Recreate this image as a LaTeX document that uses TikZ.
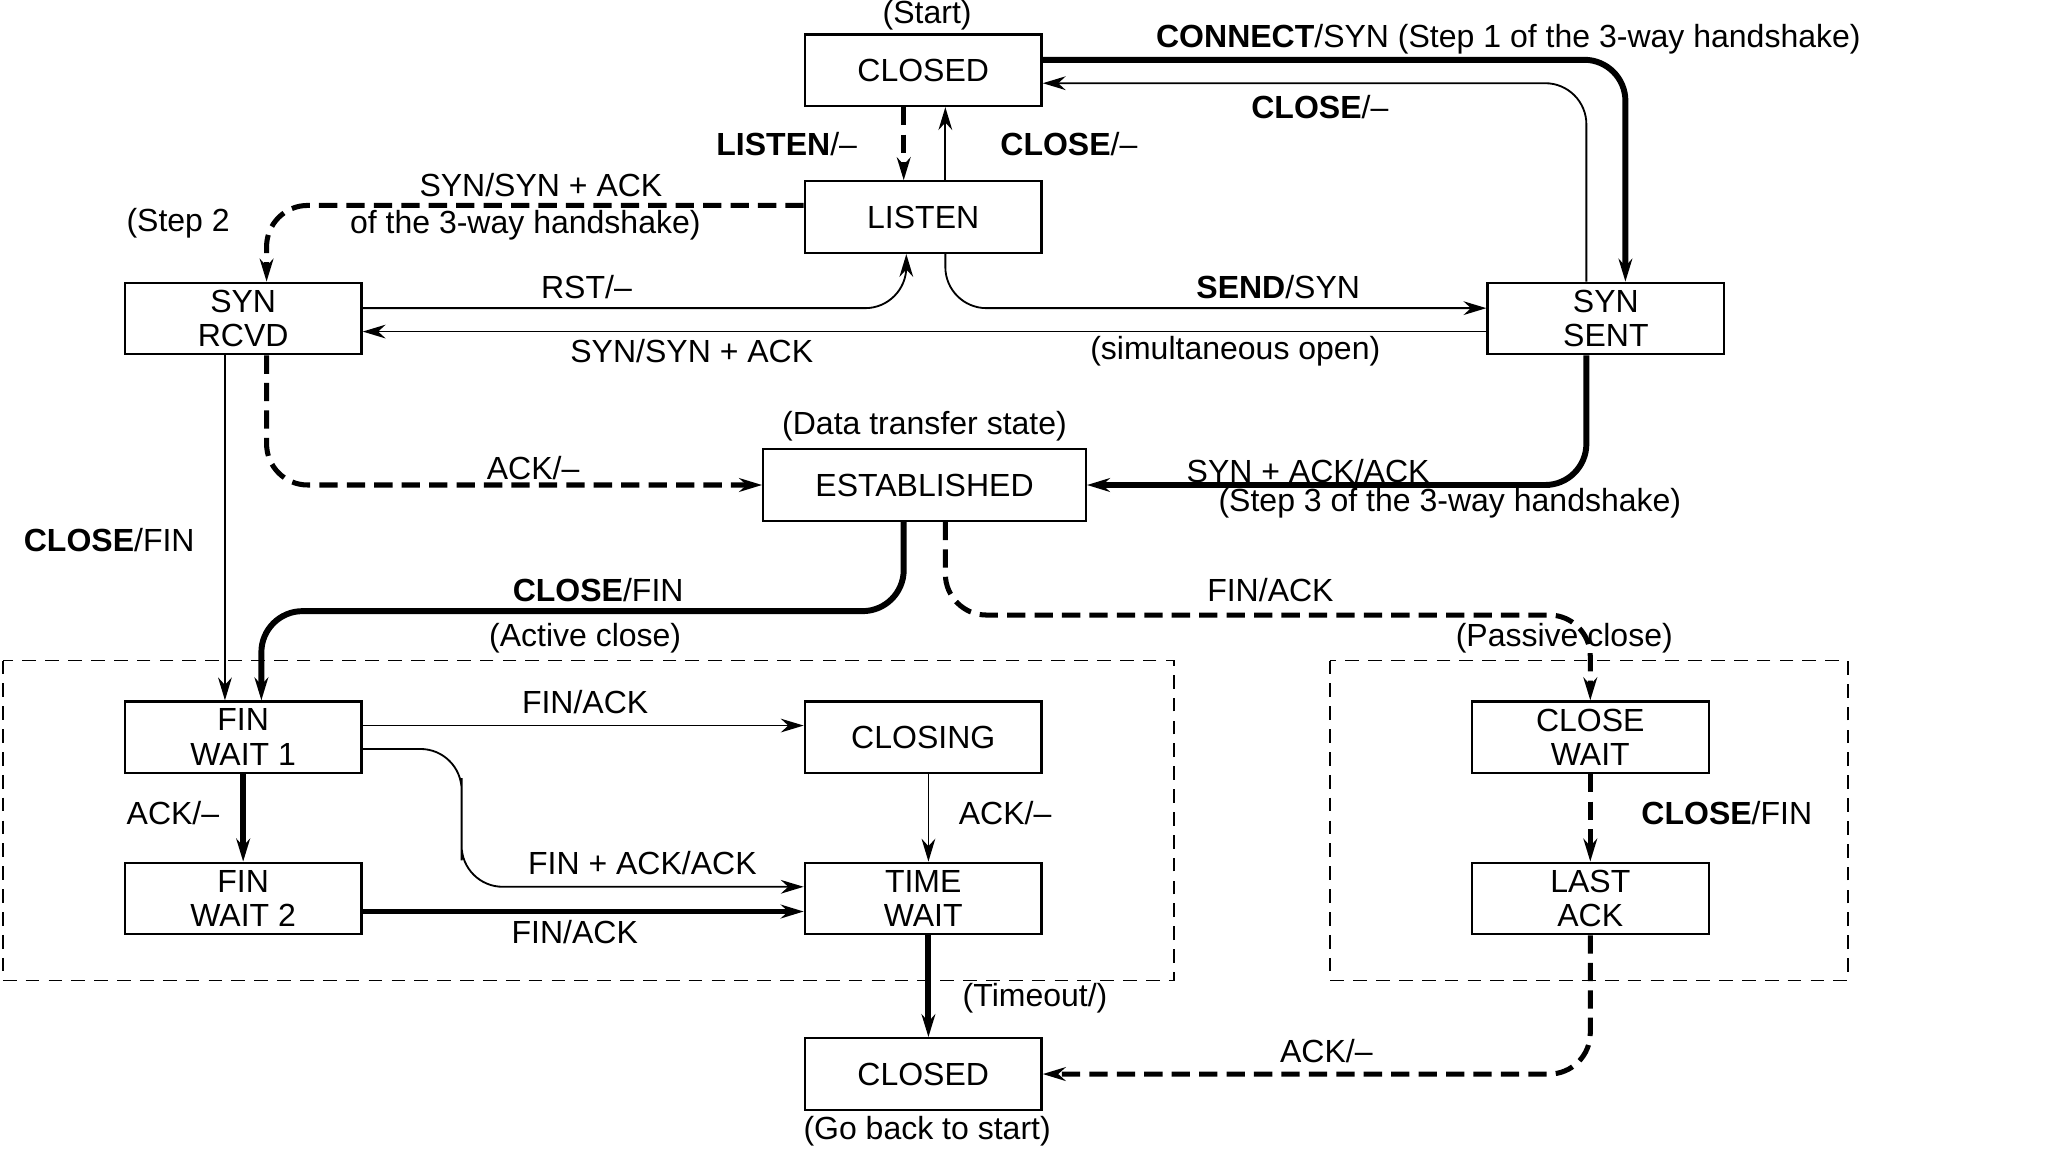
\documentclass[tikz,border=0pt]{standalone}
\usepackage{fontspec}
\setmainfont{Liberation Sans}
\usetikzlibrary{arrows.meta}
\begin{document}
\begin{tikzpicture}[x=0.01cm,y=-0.01cm,
  font=\fontsize{7}{7.6}\selectfont,
  st/.style={draw,line width=0.5pt,minimum width=1.82cm,minimum height=0.55cm,align=center,inner sep=0pt},
  lb/.style={inner sep=1pt,align=center},
  thin/.style={line width=0.4pt,-{Stealth[length=5pt,width=3pt]},rounded corners=9pt},
  thk/.style={line width=1.3pt,-{Stealth[length=5pt,width=3pt]},rounded corners=9pt},
  dsh/.style={line width=1.1pt,dashed,dash pattern=on 4pt off 2pt,-{Stealth[length=5pt,width=3pt]},rounded corners=9pt},
  box/.style={draw,dashed,line width=0.4pt,dash pattern=on 3pt off 2pt}]
\useasboundingbox (0,0) rectangle (1575,886);
\draw[box] (2,508) rectangle (903,754);
\draw[box] (1023,508) rectangle (1421,754);
\node[st] (closed) at (710,54) {CLOSED};
\node[st] (listen) at (710,167) {LISTEN};
\node[st] (synr) at (187,245) {SYN\\RCVD};
\node[st] (syns) at (1235,245) {SYN\\SENT};
\node[st,minimum width=2.48cm] (est) at (711,373) {ESTABLISHED};
\node[st] (fw1) at (187,567) {FIN\\WAIT 1};
\node[st] (closing) at (710,567) {CLOSING};
\node[st] (fw2) at (187,691) {FIN\\WAIT 2};
\node[st] (tw) at (710,691) {TIME\\WAIT};
\node[st] (cw) at (1223,567) {CLOSE\\WAIT};
\node[st] (la) at (1223,691) {LAST\\ACK};
\node[st] (closed2) at (710,826) {CLOSED};
% labels
\node[lb] (l1) at (713,12) {(Start)};
\node[lb] (l2) at (711,328) {(Data transfer state)};
\node[lb] (l3) at (713,870) {(Go back to start)};
\node[lb] (l4) at (1160,30) {\textbf{CONNECT}/SYN (Step 1 of the 3-way handshake)};
\node[lb] (l5) at (1015,82) {\textbf{CLOSE}/--};
\node[lb] (l6) at (605,111) {\textbf{LISTEN}/--};
\node[lb] (l7) at (822,111) {\textbf{CLOSE}/--};
\node[lb] (l8) at (416,142) {SYN/SYN + ACK};
\node[lb] (l9) at (137,172) {(Step 2};
\node[lb] (l10) at (404,173) {of the 3-way handshake)};
\node[lb] (l11) at (451,221) {RST/--};
\node[lb] (l12) at (983,221) {\textbf{SEND}/SYN};
\node[lb] (l13) at (532,270) {SYN/SYN + ACK};
\node[lb] (l14) at (950,270) {(simultaneous open)};
\node[lb] (l15) at (410,360) {ACK/--};
\node[lb] (l16) at (1006,362) {SYN + ACK/ACK};
\node[lb] (l17) at (1115,387) {(Step 3 of the 3-way handshake)};
\node[lb] (l18) at (84,415) {\textbf{CLOSE}/FIN};
\node[lb] (l19) at (460,454) {\textbf{CLOSE}/FIN};
\node[lb] (l20) at (450,491) {(Active close)};
\node[lb] (l21) at (977,454) {FIN/ACK};
\node[lb] (l22) at (1203,491) {(Passive close)};
\node[lb] (l23) at (450,540) {FIN/ACK};
\node[lb] (l24) at (494,664) {FIN + ACK/ACK};
\node[lb] (l25) at (133,625) {ACK/--};
\node[lb] (l26) at (773,625) {ACK/--};
\node[lb] (l27) at (442,717) {FIN/ACK};
\node[lb] (l28) at (796,768) {(Timeout/)};
\node[lb] (l29) at (1328,625) {\textbf{CLOSE}/FIN};
\node[lb] (l30) at (1020,808) {ACK/--};
% edges
\draw[thk] ([yshift=0.08cm]closed.east) -| ([xshift=0.15cm]syns.north);
\draw[thin] ([xshift=-0.15cm]syns.north) |- ([yshift=-0.1cm]closed.east);
\draw[dsh] ([xshift=-0.15cm]closed.south) -- ([xshift=-0.15cm]listen.north);
\draw[thin] ([xshift=0.17cm]listen.north) -- ([xshift=0.17cm]closed.south);
\draw[dsh] ([yshift=0.09cm]listen.west) -| ([xshift=0.18cm]synr.north);
\draw[thin] ([yshift=0.08cm]synr.east) -| ([xshift=-0.13cm]listen.south);
\draw[thin] ([xshift=0.17cm]listen.south) |- ([yshift=0.08cm]syns.west);
\draw[thin] ([yshift=-0.1cm]syns.west) -- ([yshift=-0.1cm]synr.east);
\draw[dsh] ([xshift=0.18cm]synr.south) |- (est.west);
\draw[thk] ([xshift=-0.15cm]syns.south) |- (est.east);
\draw[thin] ([xshift=-0.14cm]synr.south) -- ([xshift=-0.14cm]fw1.north);
\draw[thk] ([xshift=-0.16cm]est.south) |- (450,470) -| ([xshift=0.14cm]fw1.north);
\draw[dsh] ([xshift=0.16cm]est.south) |- (1000,473) -| (cw.north);
\draw[thin] ([yshift=0.09cm]fw1.east) -- ([yshift=0.09cm]closing.west);
\draw[thin] ([yshift=-0.09cm]fw1.east) -| (355,630) |- ([yshift=0.09cm]tw.west);
\draw[thk] (fw1.south) -- (fw2.north);
\draw[thin] ([xshift=0.04cm]closing.south) -- ([xshift=0.04cm]tw.north);
\draw[thk] ([yshift=-0.1cm]fw2.east) -- ([yshift=-0.1cm]tw.west);
\draw[thk] ([xshift=0.04cm]tw.south) -- ([xshift=0.04cm]closed2.north);
\draw[dsh] (cw.south) -- (la.north);
\draw[dsh] (la.south) |- (closed2.east);
\end{tikzpicture}
\end{document}
